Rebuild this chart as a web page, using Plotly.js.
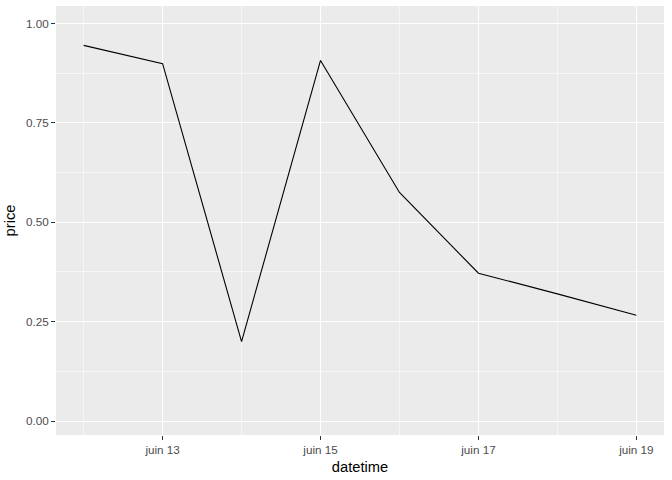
<!DOCTYPE html>
<html>
<head>
<meta charset="utf-8">
<script src="https://cdn.plot.ly/plotly-3.0.1.min.js"></script>
<style>html,body{margin:0;padding:0;background:#fff;}#chart{width:672px;height:480px;}</style>
</head>
<body>
<div id="chart"></div>
<script>
var dates = ["2023-06-12","2023-06-13","2023-06-14","2023-06-15","2023-06-16","2023-06-17","2023-06-18","2023-06-19"];
var prices = [0.945, 0.899, 0.200, 0.907, 0.575, 0.372, 0.320, 0.266];
var xTickVals = ["2023-06-13","2023-06-15","2023-06-17","2023-06-19"];
var xTickText = ["juin 13","juin 15","juin 17","juin 19"];
var xMinorVals = ["2023-06-12","2023-06-14","2023-06-16","2023-06-18"];
var yTickVals = [0, 0.25, 0.5, 0.75, 1.0];
var yTickText = ["0.00","0.25","0.50","0.75","1.00"];
var yMinorVals = [0.125, 0.375, 0.625, 0.875];

var trace = {
  x: dates, y: prices, type: "scatter", mode: "lines",
  line: {color: "#000000", width: 1.1}, hoverinfo: "skip"
};
var tickFont = {family: "Liberation Sans, Arial, sans-serif", size: 11.7, color: "#4D4D4D"};
var titleFont = {family: "Liberation Sans, Arial, sans-serif", size: 14.7, color: "#000000"};
var layout = {
  width: 672, height: 480,
  margin: {l: 56, r: 8, t: 6, b: 45},
  paper_bgcolor: "#FFFFFF", plot_bgcolor: "#EBEBEB",
  showlegend: false,
  xaxis: {
    type: "date",
    range: ["2023-06-11 15:36", "2023-06-19 08:24"],
    tickmode: "array", tickvals: xTickVals, ticktext: xTickText,
    ticks: "outside", ticklen: 4, tickwidth: 1.07, tickcolor: "#333333",
    tickfont: tickFont,
    showgrid: true, gridcolor: "#FFFFFF", gridwidth: 1.07,
    minor: {tickmode: "array", tickvals: xMinorVals, showgrid: true, gridcolor: "#FFFFFF", gridwidth: 0.53, ticks: ""},
    zeroline: false, showline: false,
    title: {text: "datetime", font: titleFont, standoff: 6},
    fixedrange: true
  },
  yaxis: {
    range: [-0.035, 1.044],
    tickmode: "array", tickvals: yTickVals, ticktext: yTickText,
    ticks: "outside", ticklen: 4, tickwidth: 1.07, tickcolor: "#333333",
    tickfont: tickFont,
    showgrid: true, gridcolor: "#FFFFFF", gridwidth: 1.07,
    minor: {tickmode: "array", tickvals: yMinorVals, showgrid: true, gridcolor: "#FFFFFF", gridwidth: 0.53, ticks: ""},
    zeroline: false, showline: false,
    title: {text: "price", font: titleFont, standoff: 6},
    fixedrange: true
  }
};
Plotly.newPlot("chart", [trace], layout, {displayModeBar: false, staticPlot: true});
</script>
</body>
</html>
